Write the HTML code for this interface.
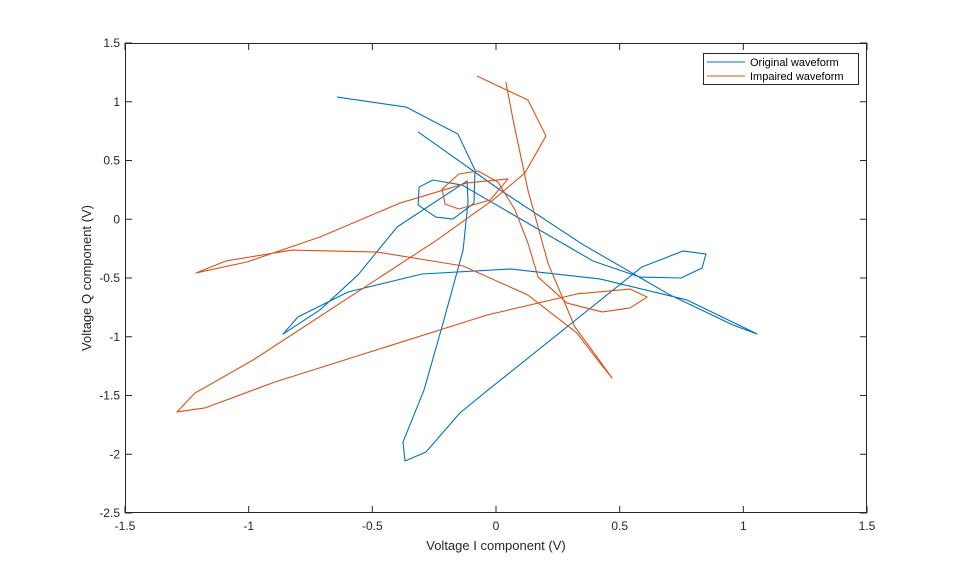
<!DOCTYPE html>
<html><head><meta charset="utf-8"><style>
body{margin:0;background:#fff;}
svg{display:block;font-family:"Liberation Sans",Arial,sans-serif;}
</style></head><body>
<svg id="chart" width="959" height="577" viewBox="0 0 959 577"></svg>
<script>
const xTicks=[-1.5,-1,-0.5,0,0.5,1,1.5];
const yTicks=[-2.5,-2,-1.5,-1,-0.5,0,0.5,1,1.5];
const xTickLabels=["-1.5","-1","-0.5","0","0.5","1","1.5"];
const yTickLabels=["-2.5","-2","-1.5","-1","-0.5","0","0.5","1","1.5"];
const origI=[-0.643,-0.364,-0.154,-0.085,-0.089,-0.174,-0.243,-0.315,-0.311,-0.255,-0.137,0.392,0.582,0.748,0.833,0.849,0.756,0.590,-0.032,-0.146,-0.283,-0.368,-0.376,-0.291,-0.214,-0.133,-0.113,-0.117,-0.400,-0.558,-0.712,-0.861,-0.801,-0.598,-0.299,0.057,0.420,0.772,1.055,0.958,0.704,0.348,0.016,-0.315];
const origQ=[1.040,0.955,0.725,0.419,0.138,0.002,0.019,0.121,0.274,0.334,0.291,-0.355,-0.492,-0.500,-0.415,-0.296,-0.270,-0.406,-1.453,-1.649,-1.981,-2.057,-1.896,-1.453,-0.883,-0.262,0.147,0.326,-0.066,-0.474,-0.772,-0.977,-0.832,-0.619,-0.466,-0.423,-0.508,-0.687,-0.976,-0.900,-0.645,-0.211,0.250,0.743];
const impI=[-0.077,0.129,0.202,0.117,-0.012,-0.239,-0.982,-1.217,-1.290,-1.177,-0.894,-0.036,0.327,0.542,0.611,0.542,0.429,0.287,0.170,0.129,0.077,0.008,-0.073,-0.150,-0.218,-0.206,-0.150,-0.024,0.049,-0.117,-0.388,-0.712,-1.007,-1.213,-1.092,-0.825,-0.481,-0.133,0.129,0.327,0.420,0.469,0.388,0.319,0.210,0.129,0.069,0.040];
const impQ=[1.219,1.015,0.709,0.394,0.164,-0.177,-1.198,-1.479,-1.640,-1.606,-1.385,-0.815,-0.636,-0.594,-0.662,-0.755,-0.789,-0.713,-0.491,-0.202,0.079,0.317,0.411,0.385,0.257,0.130,0.087,0.164,0.343,0.309,0.138,-0.151,-0.364,-0.457,-0.355,-0.262,-0.279,-0.398,-0.645,-0.968,-1.223,-1.351,-1.113,-0.917,-0.372,0.249,0.845,1.168];

const L=125,R=867,T=43,B=513;
const sx=v=>L+(v+1.5)/3*(R-L);
const sy=v=>B-(v+2.5)/4*(B-T);
const NS="http://www.w3.org/2000/svg";
const svg=document.getElementById('chart');
function mk(tag,attrs,parent){const e=document.createElementNS(NS,tag);for(const k in attrs)e.setAttribute(k,attrs[k]);(parent||svg).appendChild(e);return e;}

const axes=mk('rect',{x:L,y:T,width:R-L,height:B-T,fill:'#fff',stroke:'none'});



function series(xs,ys,color,name){
  let d='';
  for(let i=0;i<xs.length;i++)d+=(i?'L':'M')+sx(xs[i]).toFixed(2)+' '+sy(ys[i]).toFixed(2);
  const p=mk('path',{d:d,fill:'none',stroke:color,'stroke-width':1.1,'stroke-linejoin':'round'});
  
  
}
series(origI,origQ,'#0072BD','original-waveform-line');
series(impI,impQ,'#D95319','impaired-waveform-line');

const box=mk('rect',{x:L+0.5,y:T+0.5,width:R-L-1,height:B-T-1,fill:'none',stroke:'#262626','stroke-width':1});



xTicks.forEach((v,i)=>{
  const x=sx(v);
  const t=mk('path',{d:`M${x} ${B}V${B-7}M${x} ${T}V${T+7}`,stroke:'#262626','stroke-width':1});
  
  
  const tx=mk('text',{x:x,y:B+17,'text-anchor':'middle','font-size':12,fill:'#262626'});
  tx.textContent=xTickLabels[i];
  
  
});
yTicks.forEach((v,i)=>{
  const y=sy(v);
  const t=mk('path',{d:`M${L} ${y}H${L+7}M${R} ${y}H${R-7}`,stroke:'#262626','stroke-width':1});
  
  
  const tx=mk('text',{x:L-5,y:y+4,'text-anchor':'end','font-size':12,fill:'#262626'});
  tx.textContent=yTickLabels[i];
  
  
});
</script>
<svg style="position:absolute;left:0;top:0" width="959" height="577">
<text x="496" y="550" text-anchor="middle" font-size="13" fill="#262626" font-family="Liberation Sans, sans-serif">Voltage I component (V)</text>
<text transform="translate(91,278) rotate(-90)" text-anchor="middle" font-size="13" fill="#262626" font-family="Liberation Sans, sans-serif">Voltage Q component (V)</text>
<g>
<rect x="703.5" y="53.5" width="155" height="31" fill="#fff" stroke="#262626" stroke-width="1"/>
<line x1="707" y1="62" x2="745" y2="62" stroke="#0072BD" stroke-width="1.1"/>
<text x="750" y="66" font-size="11" fill="#000" font-family="Liberation Sans, sans-serif">Original waveform</text>
<line x1="707" y1="76" x2="745" y2="76" stroke="#D95319" stroke-width="1.1"/>
<text x="750" y="80" font-size="11" fill="#000" font-family="Liberation Sans, sans-serif">Impaired waveform</text>
</g>
</svg>
</body></html>
